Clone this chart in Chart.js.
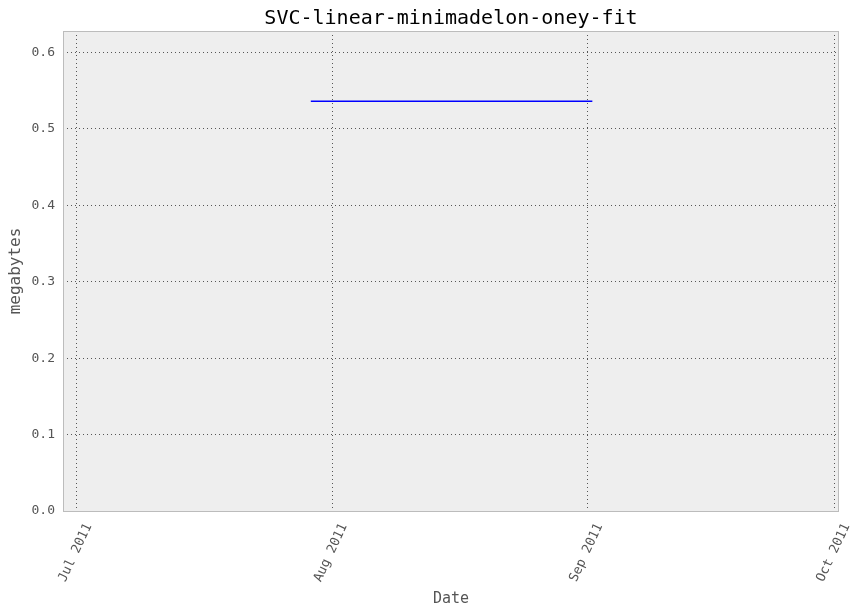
<!DOCTYPE html>
<html lang="en">
<head>
    <meta charset="UTF-8">
    <title>SVC-linear-minimadelon-oney-fit</title>
    <style>
        html, body {
            margin: 0;
            padding: 0;
            background: #ffffff;
        }
        #memChart {
            display: block;
        }
    </style>
</head>
<body>
    <canvas id="memChart" width="861" height="613"></canvas>

    <script src="https://cdn.jsdelivr.net/npm/chart.js"></script>
    <script>
        // data
        const runDates = ['2011-07-29T10:00:00Z', '2011-09-01T14:00:00Z'];
        const megabytes = [0.536, 0.536];

        const tickDates = ['2011-07-01T00:00:00Z', '2011-08-01T00:00:00Z', '2011-09-01T00:00:00Z', '2011-10-01T00:00:00Z'];
        const tickLabels = ['Jul 2011', 'Aug 2011', 'Sep 2011', 'Oct 2011'];
        const yTicks = [0.0, 0.1, 0.2, 0.3, 0.4, 0.5, 0.6];

        const DAY = 24 * 3600 * 1000;
        const xMin = Date.parse(tickDates[0]) - 1.66 * DAY;
        const xMax = Date.parse(tickDates[3]) + 0.52 * DAY;
        const yMax = 0.628;

        const fontFamily = '"DejaVu Sans Mono", monospace';

        const points = runDates.map((d, i) => ({ x: Date.parse(d), y: megabytes[i] }));

        // grey plot background and frame, like the matplotlib style
        const plotFrame = {
            id: 'plotFrame',
            afterLayout(chart) {
                // centre the title over the plot area, not the whole canvas
                if (chart.titleBlock) {
                    chart.titleBlock.left = chart.chartArea.left;
                    chart.titleBlock.right = chart.chartArea.right;
                }
            },
            beforeDraw(chart) {
                const { ctx, chartArea: a } = chart;
                ctx.save();
                ctx.fillStyle = '#eeeeee';
                ctx.fillRect(a.left, a.top, a.right - a.left, a.bottom - a.top);
                ctx.restore();
            },
            afterDraw(chart) {
                const { ctx, chartArea: a } = chart;
                ctx.save();
                ctx.strokeStyle = '#bcbcbc';
                ctx.lineWidth = 1;
                ctx.strokeRect(a.left + 0.5, a.top + 0.5, a.right - a.left - 1, a.bottom - a.top);
                ctx.restore();
            }
        };

        const gridStyle = {
            color: '#555555',
            lineWidth: 1,
            drawTicks: false
        };

        new Chart(document.getElementById('memChart').getContext('2d'), {
            type: 'line',
            data: {
                datasets: [{
                    label: 'megabytes',
                    data: points,
                    borderColor: '#0000ff',
                    borderWidth: 1.5,
                    pointRadius: 0,
                    fill: false,
                    tension: 0
                }]
            },
            options: {
                responsive: false,
                animation: false,
                devicePixelRatio: 1,
                layout: {
                    padding: { left: 0, right: 22, top: 0, bottom: 0 }
                },
                plugins: {
                    legend: { display: false },
                    tooltip: { enabled: false },
                    title: {
                        display: true,
                        text: 'SVC-linear-minimadelon-oney-fit',
                        color: '#000000',
                        font: { family: fontFamily, size: 20, weight: 'normal', lineHeight: 1.2 },
                        padding: { top: 7, bottom: 0 }
                    }
                },
                scales: {
                    x: {
                        type: 'linear',
                        min: xMin,
                        max: xMax,
                        afterBuildTicks(scale) {
                            scale.ticks = tickDates.map(d => ({ value: Date.parse(d) }));
                        },
                        afterFit(scale) {
                            scale.height = 102;
                        },
                        grid: gridStyle,
                        border: { display: false, dash: [1, 3] },
                        ticks: {
                            autoSkip: false,
                            maxRotation: 65,
                            minRotation: 65,
                            labelOffset: 12,
                            padding: 10,
                            color: '#555555',
                            font: { family: fontFamily, size: 13 },
                            callback(value) {
                                const i = tickDates.findIndex(d => Date.parse(d) === value);
                                return i >= 0 ? tickLabels[i] : '';
                            }
                        },
                        title: {
                            display: true,
                            text: 'Date',
                            color: '#555555',
                            font: { family: fontFamily, size: 15, lineHeight: 1.2 },
                            padding: { top: 0, bottom: 5 }
                        }
                    },
                    y: {
                        min: 0,
                        max: yMax,
                        afterBuildTicks(scale) {
                            scale.ticks = yTicks.map(v => ({ value: v }));
                        },
                        afterFit(scale) {
                            scale.width = 63;
                        },
                        grid: gridStyle,
                        border: { display: false, dash: [1, 3] },
                        ticks: {
                            padding: 8,
                            color: '#555555',
                            font: { family: fontFamily, size: 13 },
                            callback(value) {
                                return value.toFixed(1);
                            }
                        },
                        title: {
                            display: true,
                            text: 'megabytes',
                            color: '#555555',
                            font: { family: fontFamily, size: 16, lineHeight: 1.2 },
                            padding: { top: 6, bottom: 0 }
                        }
                    }
                }
            },
            plugins: [plotFrame]
        });
    </script>
</body>
</html>
